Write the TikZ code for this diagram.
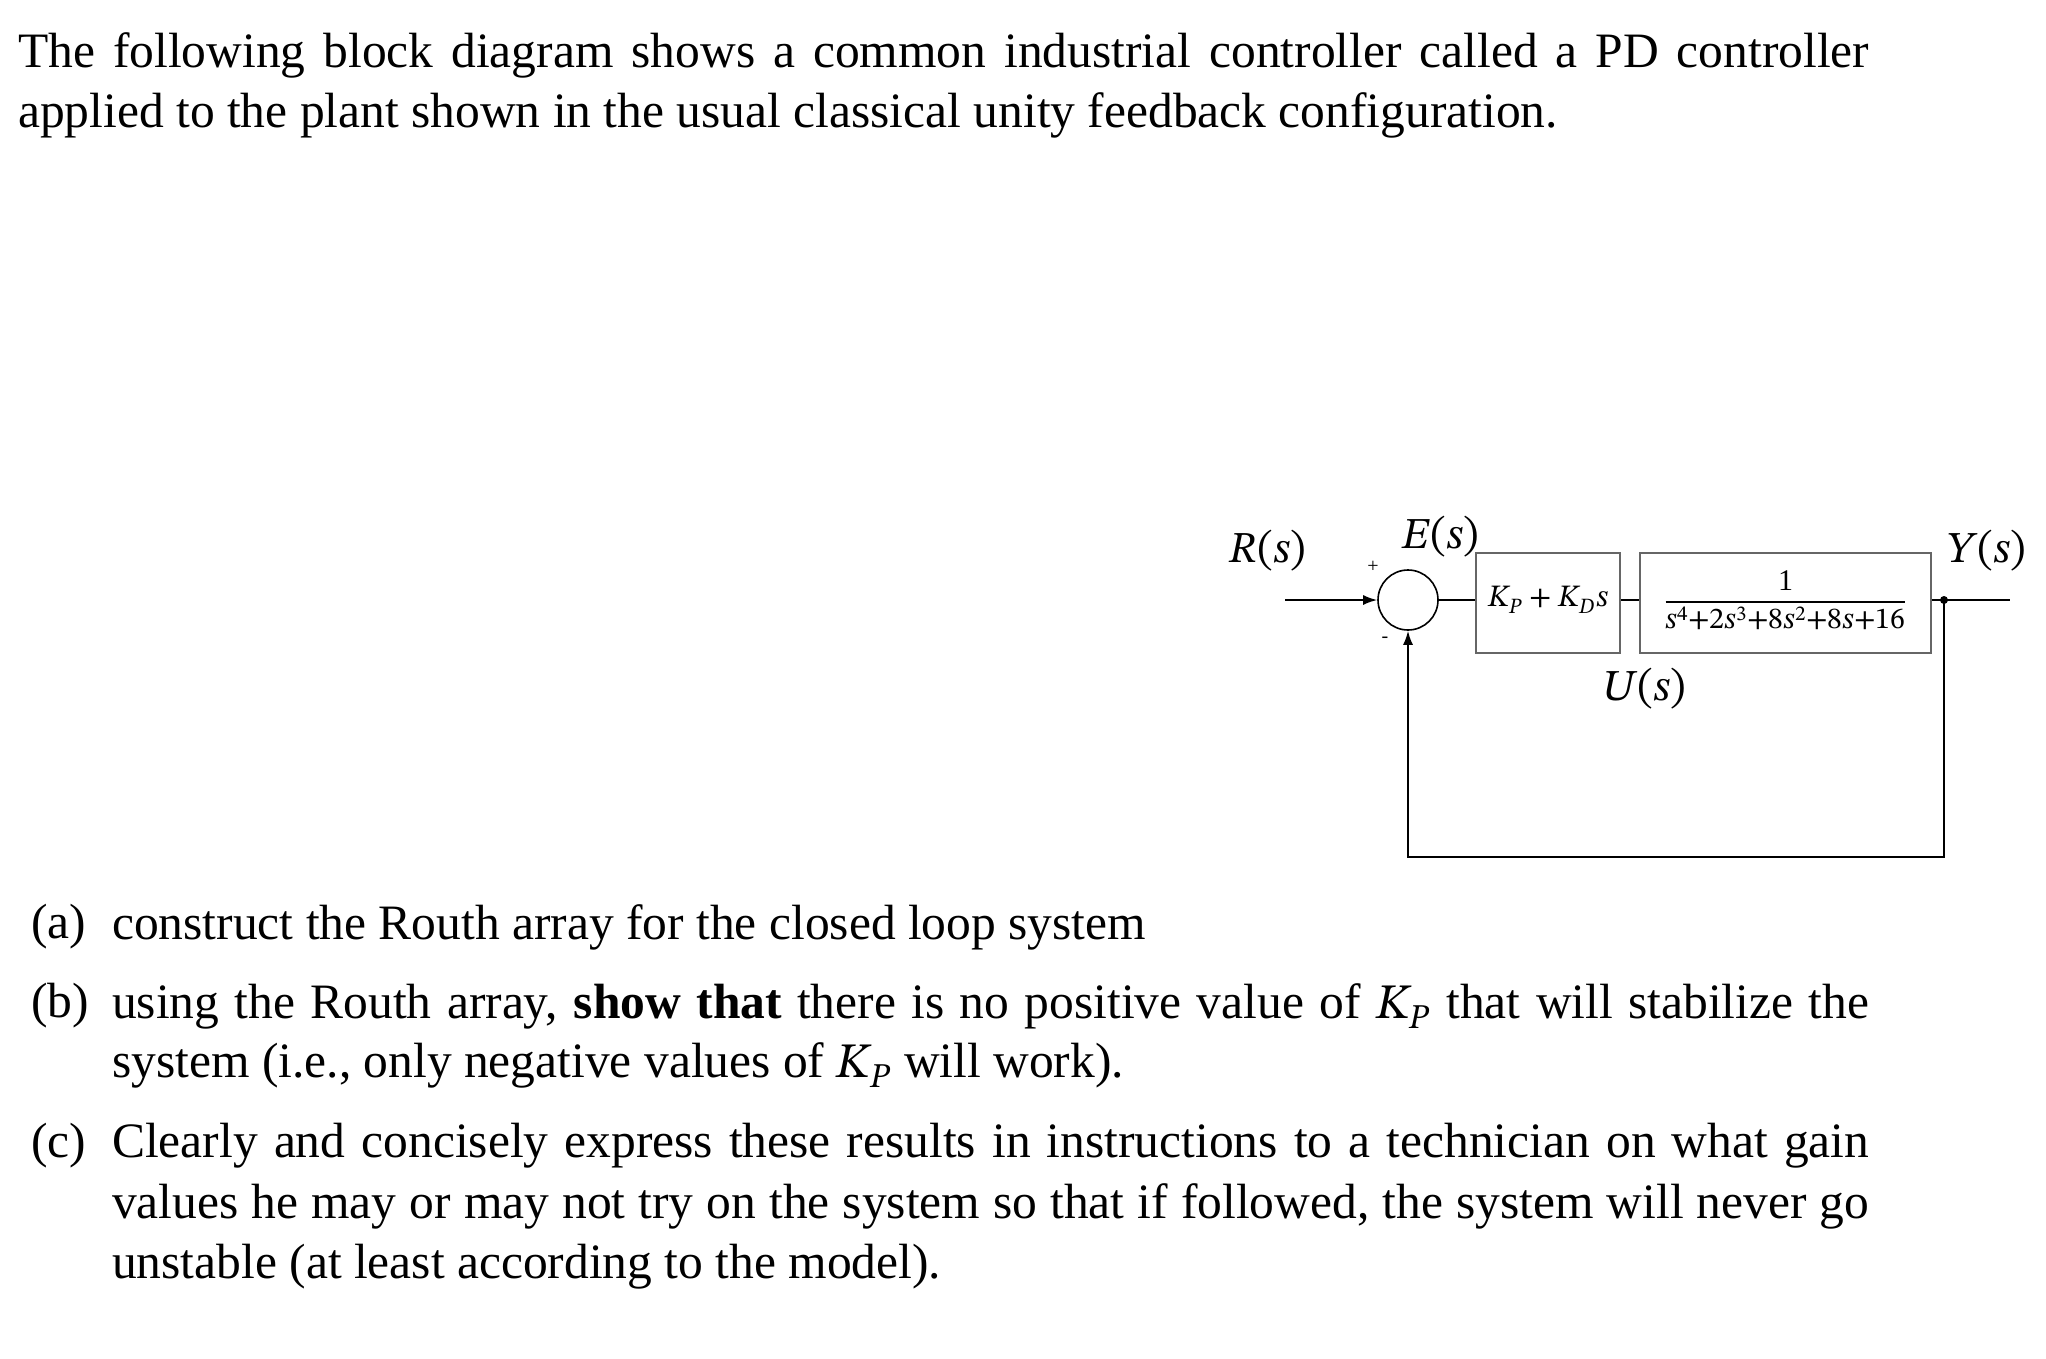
\documentclass[tikz,border=0pt]{standalone}
\usepackage{fontspec}
\setmainfont{Liberation Serif}
\usepackage{unicode-math}
\setmathfont{STIX Two Math}
\usetikzlibrary{arrows.meta}
\begin{document}
\begin{tikzpicture}[x=1pt,y=-1pt,
  txt/.style={anchor=west,inner sep=0pt,font=\fontsize{49.5}{56}\selectfont},
  lbl/.style={inner sep=0pt,font=\fontsize{44}{48}\selectfont},
  blk/.style={draw=gray!80!black,line width=2pt,inner sep=0pt},
  wire/.style={line width=1.8pt},
  arr/.style={wire,-{Latex[length=14pt,width=10pt]}}]
\useasboundingbox (0,0) rectangle (2046,1358);
\newcommand{\jl}[1]{\makebox[1851pt][s]{#1}}
\newcommand{\jm}[1]{\makebox[1757pt][s]{#1}}
\node[txt] (p1) at (18,55) {\jl{The following block diagram shows a common industrial controller called a PD controller}};
\node[txt] (p2) at (18,115) {applied to the plant shown in the usual classical unity feedback configuration.};
% diagram
\node[draw,circle,line width=1.6pt,minimum size=60pt,inner sep=0pt] (sum) at (1408,600) {};
\node[blk,minimum width=144pt,minimum height=100pt] (c) at (1548,603) {};
\node[inner sep=0pt,font=\fontsize{31}{33}\selectfont] (ct) at (1548,600) {$K_P+K_Ds$};
\node[blk,minimum width=291pt,minimum height=100pt] (g) at (1785.5,603) {};
\node[inner sep=0pt,font=\fontsize{30}{33}\selectfont] (gt) at (1785.5,600) {$\dfrac{\mathrm{1}}{s^4{+}2s^3{+}8s^2{+}8s{+}16}$};
\coordinate (rin) at (1285,600);
\coordinate (yout) at (2010,600);
\coordinate (dot) at (1944,600);
\coordinate (bl) at (1408,857);
\coordinate (br) at (1944,857);
\draw[arr] (rin) -- (sum.west);
\draw[wire] (sum.east) -- (c.west |- sum.east);
\draw[wire] (c.east |- sum.east) -- (g.west |- sum.east);
\draw[wire] (g.east |- sum.east) -- (yout);
\fill (dot) circle (4pt);
\draw[arr] (dot) -- (br) -- (bl) -- (sum.south);
\node[lbl] (R) at (1268,551) {$R(s)$};
\node[lbl] (E) at (1441,537) {$E(s)$};
\node[lbl] (Y) at (1986,551) {$Y(s)$};
\node[lbl] (U) at (1644,689) {$U(s)$};
\node[inner sep=0pt,font=\fontsize{20}{22}\selectfont] (plus) at (1373,567) {+};
\node[inner sep=0pt,font=\fontsize{20}{22}\selectfont] (minus) at (1385,640) {-};
% items
\node[txt] (a) at (31,927) {(a)};
\node[txt] (at) at (112,927) {construct the Routh array for the closed loop system};
\node[txt] (b) at (31,1006) {(b)};
\node[txt] (bt1) at (112,1006) {\jm{using the Routh array, \textbf{show that} there is no positive value of $K_P$ that will stabilize the}};
\node[txt] (bt2) at (112,1065) {system (i.e., only negative values of $K_P$ will work).};
\node[txt] (cc) at (31,1146) {(c)};
\node[txt] (ct1) at (112,1146) {\jm{Clearly and concisely express these results in instructions to a technician on what gain}};
\node[txt] (ct2) at (112,1206) {\jm{values he may or may not try on the system so that if followed, the system will never go}};
\node[txt] (ct3) at (112,1267) {unstable (at least according to the model).};
\end{tikzpicture}
\end{document}
